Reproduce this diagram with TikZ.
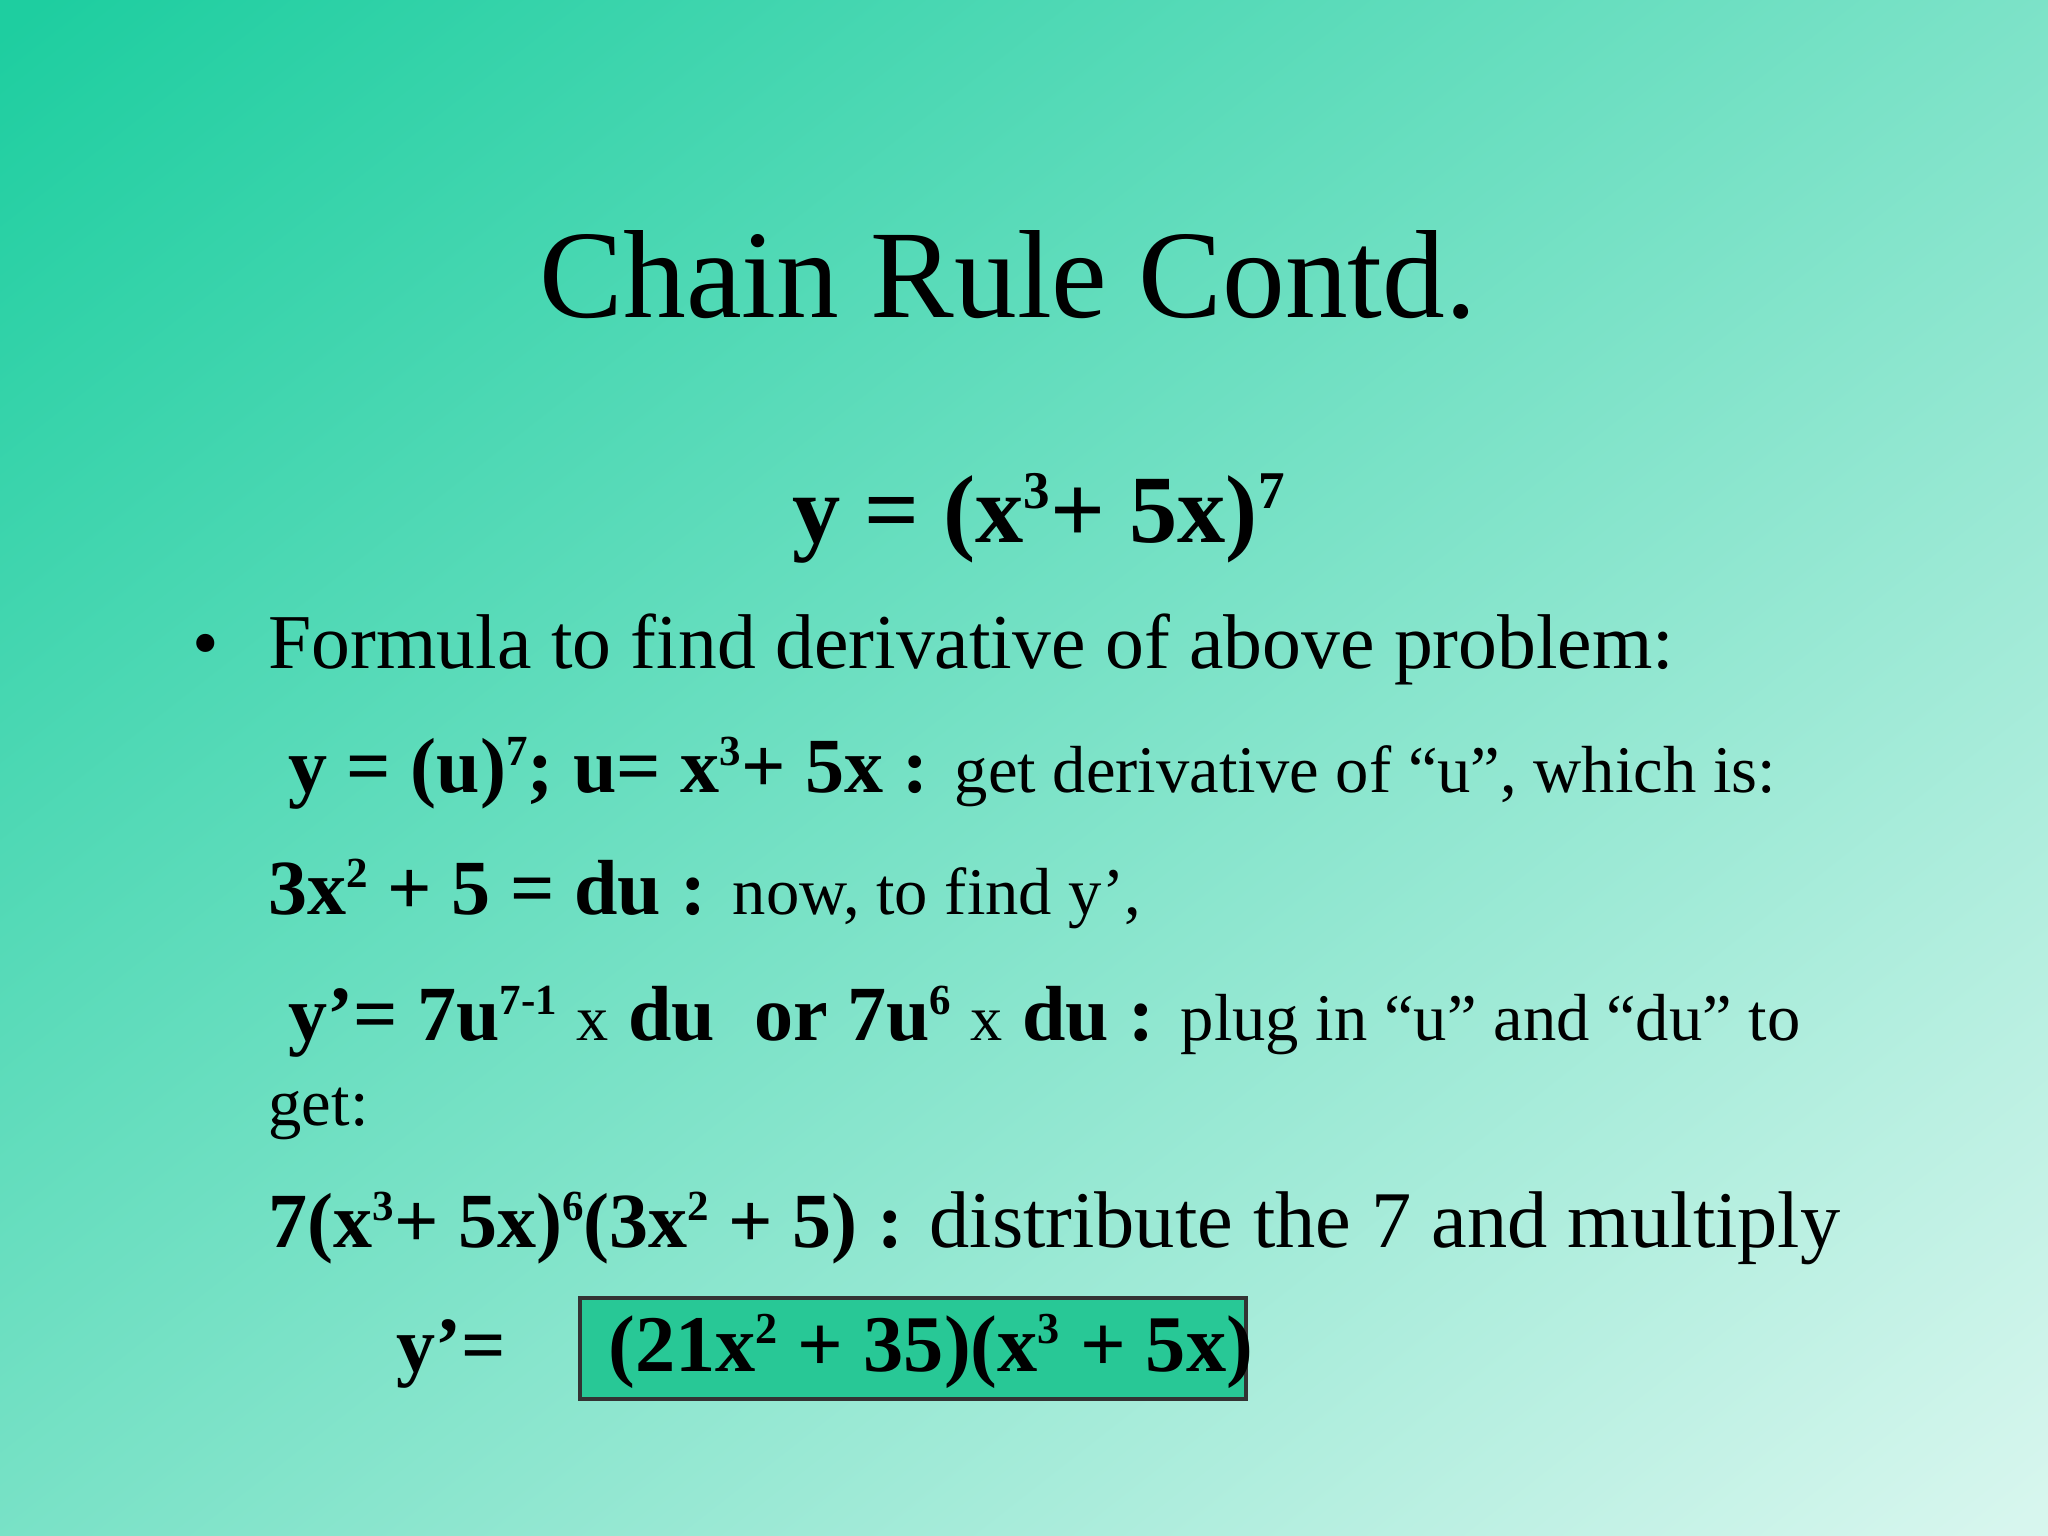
\documentclass[tikz,border=0pt]{standalone}
\usepackage{fontspec}
\setmainfont{Liberation Serif}
\definecolor{bgA}{RGB}{30,206,160}
\definecolor{bgB}{RGB}{215,246,238}
\definecolor{boxc}{RGB}{40,200,150}
\newcommand{\sps}[1]{\raisebox{0.75ex}{\scalebox{0.55}{#1}}}
\begin{document}
\begin{tikzpicture}[x=0.01cm,y=-0.01cm,
  txt/.style={anchor=base west,inner sep=0pt,text=black},
  big/.style={font=\fontsize{17}{20}\selectfont}]
\useasboundingbox (0,0) rectangle (1568,1176);
\shade[bottom color=bgB,top color=bgA,shading angle=38] (-250,-250) rectangle (1818,1426);
\node[anchor=base,inner sep=0pt,font=\fontsize{27.3}{32}\selectfont] (title) at (772,243) {Chain Rule Contd.};
\node[anchor=base,inner sep=0pt,font=\fontsize{21}{24}\selectfont\bfseries] (eq) at (795,415) {y = (x\sps{3}+ 5x)\sps{7}};
\node[txt,font=\fontsize{16.5}{20}\selectfont] (bul) at (147,512) {•};
\node[txt,font=\fontsize{16.9}{20}\selectfont] (l1) at (205,512) {Formula to find derivative of above problem:};
\node[txt,big] (l2) at (220,607) {\textbf{y = (u)\sps{7}; u= x\sps{3}+ 5x :} {\fontsize{14.5}{18}\selectfont get derivative of “u”, which is:}};
\node[txt,big] (l3) at (205,700) {\textbf{3x\sps{2} + 5 = du :} {\fontsize{14.5}{18}\selectfont now, to find y’,}};
\node[txt,big] (l4) at (220,797) {\textbf{y’= 7u\sps{7-1}} {\fontsize{14}{18}\selectfont x} \textbf{du\ \ or 7u\sps{6}} {\fontsize{14}{18}\selectfont x} \textbf{du :} {\fontsize{14.5}{18}\selectfont plug in “u” and “du” to}};
\node[txt,font=\fontsize{14.5}{18}\selectfont] (l5) at (205,862) {get:};
\node[txt,big] (l6) at (205,955) {\textbf{7(x\sps{3}+ 5x)\sps{6}(3x\sps{2} + 5) :} {\fontsize{17.5}{22}\selectfont distribute the 7 and multiply}};
\node[txt,font=\fontsize{17}{20}\selectfont\bfseries] (yp) at (303,1050) {y’=};
\draw[fill=boxc,draw=black!80,line width=0.8pt] (444,994) rectangle (954,1071);
\node[txt,font=\fontsize{17.5}{22}\selectfont\bfseries] (ans) at (465,1050) {(21x\sps{2} + 35)(x\sps{3} + 5x)};
\end{tikzpicture}
\end{document}
